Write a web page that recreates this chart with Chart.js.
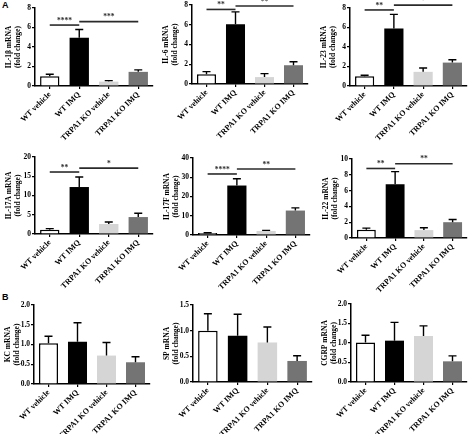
<!DOCTYPE html>
<html>
<head>
<meta charset="utf-8">
<script src="https://cdn.jsdelivr.net/npm/chart.js@4.4.0/dist/chart.umd.min.js"></script>
<style>
  html, body { margin: 0; padding: 0; background: #fff; }
  #fig { position: relative; width: 474px; height: 434px; overflow: hidden; }
  .panel { position: absolute; }
  .tag { position: absolute; font: bold 9px "Liberation Sans", Arial, sans-serif; color: #000; }
</style>
</head>
<body>
<div id="fig">
  <div class="tag" style="left:2px;top:0px">A</div>
  <div class="tag" style="left:2px;top:292px">B</div>
</div>
<script>
// groups on the x axis
const categories = ['WT vehicle', 'WT IMQ', 'TRPA1 KO vehicle', 'TRPA1 KO IMQ'];
const barColors = ['#ffffff', '#000000', '#d5d5d5', '#747474'];

// mean fold change and SEM
const il1bMean = [1.0, 4.95, 0.45, 1.45];
const il1bErr = [0.2, 0.85, 0.1, 0.2];
const il6Mean = [1.0, 6.05, 0.7, 1.9];
const il6Err = [0.25, 1.25, 0.35, 0.35];
const il23Mean = [1.0, 5.9, 1.45, 2.4];
const il23Err = [0.1, 1.45, 0.4, 0.3];
const il17aMean = [1.1, 12.2, 2.6, 4.4];
const il17aErr = [0.3, 2.6, 0.5, 1.0];
const il17fMean = [1.0, 25.7, 2.1, 12.7];
const il17fErr = [0.2, 3.5, 0.3, 1.4];
const il22Mean = [1.05, 6.8, 1.0, 2.0];
const il22Err = [0.2, 1.6, 0.3, 0.35];
const kcMean = [1.03, 1.07, 0.72, 0.55];
const kcErr = [0.18, 0.48, 0.33, 0.14];
const spMean = [1.0, 0.9, 0.77, 0.41];
const spErr = [0.33, 0.42, 0.3, 0.1];
const cgrpMean = [1.01, 1.06, 1.18, 0.53];
const cgrpErr = [0.19, 0.47, 0.26, 0.14];

// y tick labels
const ticks8 = [0, 2, 4, 6, 8];
const ticks10 = [0, 2, 4, 6, 8, 10];
const ticks20 = [0, 5, 10, 15, 20];
const ticks40 = [0, 10, 20, 30, 40];
const ticks2 = [0, 0.5, 1.0, 1.5, 2.0];
const ticks15 = [0, 0.5, 1.0, 1.5];

// significance bars: [from group, to group, height, stars]
const il1bSig = [[0, 1, 6.25, '****'], [1, 3, 6.6, '***']];
const il6Sig = [[0, 1, 7.55, '**'], [1, 3, 7.9, '**']];
const il23Sig = [[0, 1, 7.8, '**'], [1, 3, 8.3, '*']];
const il17aSig = [[0, 1, 16.1, '**'], [1, 3, 17.1, '*']];
const il17fSig = [[0, 1, 31.7, '****'], [1, 3, 34.3, '**']];
const il22Sig = [[0, 1, 8.8, '**'], [1, 3, 9.4, '**']];

const panels = [
    { title: ['IL-1β mRNA', '(fold change)'], mean: il1bMean, err: il1bErr, ticks: ticks8, dec: 0, sig: il1bSig },
    { title: ['IL-6 mRNA', '(fold change)'], mean: il6Mean, err: il6Err, ticks: ticks8, dec: 0, sig: il6Sig },
    { title: ['IL-23 mRNA', '(fold change)'], mean: il23Mean, err: il23Err, ticks: ticks8, dec: 0, sig: il23Sig },
    { title: ['IL-17A mRNA', '(fold change)'], mean: il17aMean, err: il17aErr, ticks: ticks20, dec: 0, sig: il17aSig },
    { title: ['IL-17F mRNA', '(fold change)'], mean: il17fMean, err: il17fErr, ticks: ticks40, dec: 0, sig: il17fSig },
    { title: ['IL-22 mRNA', '(fold change)'], mean: il22Mean, err: il22Err, ticks: ticks10, dec: 0, sig: il22Sig },
    { title: ['KC mRNA', '(fold change)'], mean: kcMean, err: kcErr, ticks: ticks2, dec: 1, sig: [] },
    { title: ['SP mRNA', '(fold change)'], mean: spMean, err: spErr, ticks: ticks15, dec: 1, sig: [] },
    { title: ['CGRP mRNA', '(fold change)'], mean: cgrpMean, err: cgrpErr, ticks: ticks2, dec: 1, sig: [] }
];

// where each plot area sits on the page: axis x, top, zero line, right end
const boxes = [
    [35, 8, 86, 153], [192, 5, 84, 308], [350, 8, 86, 467],
    [35, 157, 234, 153], [193, 158, 235, 310], [352, 159, 238, 467],
    [34, 305, 384, 150], [193, 305, 382, 312], [351, 304, 382, 467]
];

Chart.defaults.font.family = '"Liberation Serif", "Times New Roman", serif';
Chart.defaults.font.weight = 'bold';
Chart.defaults.color = '#000';

// upward error whiskers with a cap
const errorBars = {
    id: 'errorBars',
    afterDatasetsDraw(chart) {
        const ds = chart.data.datasets[0];
        const meta = chart.getDatasetMeta(0);
        const y = chart.scales.y;
        const ctx = chart.ctx;
        ctx.save();
        ctx.strokeStyle = '#000';
        ctx.lineWidth = 1.4;
        meta.data.forEach((bar, i) => {
            const base = y.getPixelForValue(ds.data[i]);
            const top = y.getPixelForValue(ds.data[i] + ds.errors[i]);
            ctx.beginPath();
            ctx.moveTo(bar.x, base);
            ctx.lineTo(bar.x, top);
            ctx.moveTo(bar.x - 4, top);
            ctx.lineTo(bar.x + 4, top);
            ctx.stroke();
        });
        ctx.restore();
    }
};

// significance lines with stars
const sigBars = {
    id: 'sigBars',
    afterDraw(chart, args, opts) {
        const meta = chart.getDatasetMeta(0);
        const y = chart.scales.y;
        const ctx = chart.ctx;
        ctx.save();
        ctx.strokeStyle = '#2a2a2a';
        ctx.fillStyle = '#2a2a2a';
        ctx.lineWidth = 1.6;
        ctx.font = 'bold 7.5px "Liberation Serif", serif';
        ctx.textAlign = 'center';
        ctx.textBaseline = 'bottom';
        (opts.items || []).forEach(s => {
            const x1 = meta.data[s[0]].x;
            const x2 = meta.data[s[1]].x;
            const py = y.getPixelForValue(s[2]);
            ctx.beginPath();
            ctx.moveTo(x1, py);
            ctx.lineTo(x2, py);
            ctx.stroke();
            ctx.fillText(s[3], (x1 + x2) / 2, py - 0.5);
        });
        ctx.restore();
    }
};

const fig = document.getElementById('fig');
const yw = 30, padL = 10, padTop = 14, padR = 4, xh = 62;

panels.forEach((p, k) => {
    const [ax, top, zero, right] = boxes[k];
    const div = document.createElement('div');
    div.className = 'panel';
    const left = ax - yw - padL;
    div.style.left = left + 'px';
    div.style.top = (top - padTop) + 'px';
    div.style.width = (right + padR - left) + 'px';
    div.style.height = (zero - top + padTop + xh) + 'px';
    const canvas = document.createElement('canvas');
    div.appendChild(canvas);
    fig.appendChild(div);

    new Chart(canvas, {
        type: 'bar',
        data: {
            labels: categories,
            datasets: [{
                data: p.mean,
                errors: p.err,
                backgroundColor: barColors,
                borderColor: '#000',
                borderWidth: [1.5, 0, 0, 0],
                barPercentage: 0.8,
                categoryPercentage: 0.82
            }]
        },
        options: {
            responsive: true,
            maintainAspectRatio: false,
            animation: false,
            layout: { padding: { top: padTop, left: padL, right: padR, bottom: 0 } },
            plugins: {
                legend: { display: false },
                tooltip: { enabled: false },
                sigBars: { items: p.sig }
            },
            scales: {
                x: {
                    offset: true,
                    grid: { display: true, drawOnChartArea: false, tickLength: 3, tickColor: '#000', lineWidth: 1.2, offset: false },
                    border: { display: true, color: '#000', width: 1.5 },
                    ticks: { color: '#000', font: { size: 8, weight: 'bold' }, minRotation: 45, maxRotation: 45, padding: 1, autoSkip: false },
                    afterFit(s) { s.height = xh; s.paddingLeft = 0; s.paddingRight = 0; }
                },
                y: {
                    min: 0,
                    max: p.ticks[p.ticks.length - 1],
                    grid: { display: true, drawOnChartArea: false, tickLength: 3, tickColor: '#000', lineWidth: 1.2 },
                    border: { display: true, color: '#000', width: 1.5 },
                    ticks: { color: '#000', font: { size: 7.5, weight: 'bold' }, padding: 1, callback: v => Number(v).toFixed(p.dec) },
                    afterBuildTicks(s) { s.ticks = p.ticks.map(v => ({ value: v })); },
                    title: { display: true, text: p.title, color: '#000', font: { size: 7.5, weight: 'bold' }, padding: 0 },
                    afterFit(s) { s.width = yw; s.paddingTop = 0; s.paddingBottom = 0; }
                }
            }
        },
        plugins: [errorBars, sigBars]
    });
});
</script>
</body>
</html>
